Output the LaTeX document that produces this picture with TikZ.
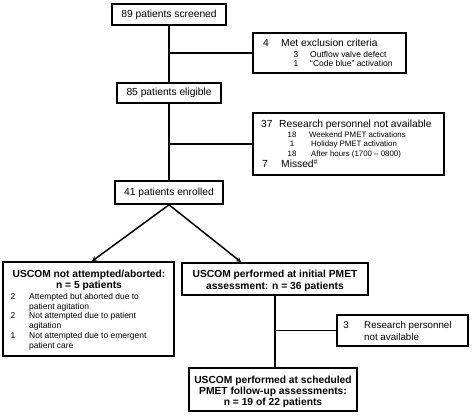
\documentclass[tikz,border=0pt]{standalone}
\usepackage{fontspec}
\setmainfont{Liberation Sans}
\usetikzlibrary{arrows.meta,calc}
\begin{document}
\begin{tikzpicture}[x=1bp,y=-1bp,
  box/.style={draw, line width=1.6bp, inner sep=0pt},
  conn/.style={line width=1.5bp},
  arr/.style={line width=1.5bp, -{Stealth[length=5bp,width=5bp]}},
  big/.style={inner sep=0pt, font=\fontsize{10.3}{12}\selectfont},
  bigb/.style={inner sep=0pt, font=\fontsize{10.3}{12}\selectfont\bfseries, anchor=base},
  med/.style={inner sep=0pt, font=\fontsize{8.5}{10}\selectfont},
  sml/.style={inner sep=0pt, font=\fontsize{7.9}{10}\selectfont},
  rp/.style={inner sep=0pt, font=\fontsize{9.8}{12}\selectfont},
]
\useasboundingbox (0,0) rectangle (474,416);

% main column boxes
\node[box, big, minimum width=114bp, minimum height=21bp] (b1) at (169,14.5) {89 patients screened};
\node[box, big, minimum width=104bp, minimum height=20bp] (b2) at (169,93) {85 patients eligible};
\node[box, big, minimum width=108bp, minimum height=23bp] (b3) at (169,192.5) {41 patients enrolled};

% exclusion box
\node[box, minimum width=153bp, minimum height=40bp] (excl) at (329.5,53) {};
\node[big, anchor=base west] (e0n) at (263,46.7) {4};
\node[big, anchor=base west] (e0t) at (281,46.7) {Met exclusion criteria};
\node[med, anchor=base] (e1n) at (296,57.3) {3};
\node[med, anchor=base west] (e1t) at (310,57.3) {Outflow valve defect};
\node[med, anchor=base] (e2n) at (296,66.5) {1};
\node[med, anchor=base west] (e2t) at (310,66.5) {“Code blue” activation};

% research box
\node[box, minimum width=191bp, minimum height=62bp] (res) at (348.5,144) {};
\node[big, anchor=base west] (r0n) at (261,127.7) {37};
\node[big, anchor=base west] (r0t) at (279,127.7) {Research personnel not available};
\node[sml, anchor=base] (r1n) at (292,137.2) {18};
\node[sml, anchor=base west] (r1t) at (309,137.2) {Weekend PMET activations};
\node[sml, anchor=base] (r2n) at (292,146.8) {1};
\node[sml, anchor=base west] (r2t) at (311,146.8) {Holiday PMET activation};
\node[sml, anchor=base] (r3n) at (292,156.2) {18};
\node[sml, anchor=base west] (r3t) at (311,156.2) {After hours (1700 – 0800)};
\node[big, anchor=base west] (r4n) at (262,167.7) {7};
\node[big, anchor=base west] (r4t) at (281,167.7) {Missed\textsuperscript{\#}};

% left box
\node[box, minimum width=171bp, minimum height=94bp] (lft) at (88.5,309) {};
\node[bigb] (l0) at (89,277.7) {USCOM not attempted/aborted:};
\node[bigb] (l1) at (89,288.9) {n = 5 patients};
\node[med, anchor=base] (l2n) at (13,299.2) {2};
\node[med, anchor=base west] (l2t) at (29,299.2) {Attempted but aborted due to};
\node[med, anchor=base west] (l3t) at (29,309) {patient agitation};
\node[med, anchor=base] (l4n) at (13,318.8) {2};
\node[med, anchor=base west] (l4t) at (29,318.8) {Not attempted due to patient};
\node[med, anchor=base west] (l5t) at (29,328.8) {agitation};
\node[med, anchor=base] (l6n) at (13,338.8) {1};
\node[med, anchor=base west] (l6t) at (29,338.8) {Not attempted due to emergent};
\node[med, anchor=base west] (l7t) at (29,348.8) {patient care};

% middle box
\node[box, minimum width=186bp, minimum height=32bp] (mid) at (275,279) {};
\node[bigb] (m0) at (275,277.7) {USCOM performed at initial PMET};
\node[bigb] (m1) at (275,289.7) {assessment: n = 36 patients};

% right small box
\node[box, minimum width=131bp, minimum height=31bp] (rs) at (402.5,330.5) {};
\node[rp, anchor=base] (s0n) at (346,328.6) {3};
\node[rp, anchor=base west] (s0t) at (364,328.6) {Research personnel};
\node[rp, anchor=base west] (s1t) at (364,340.6) {not available};

% bottom box
\node[box, minimum width=168bp, minimum height=43bp] (bot) at (273,389.5) {};
\node[bigb] (o0) at (273,383.8) {USCOM performed at scheduled};
\node[bigb] (o1) at (273,394.4) {PMET follow-up assessments:};
\node[bigb] (o2) at (273,405.2) {n = 19 of 22 patients};

% connectors
\draw[conn] (b1.south) -- (b2.north);
\draw[conn] (b1.south |- excl.west) -- (excl.west);
\draw[conn] (b2.south) -- (b3.north);
\draw[conn] (b2.south |- res.west) -- (res.west);
\coordinate (lftin) at ($(lft.north west)!0.52!(lft.north east)$);
\coordinate (midin) at ($(mid.north west)!0.32!(mid.north east)$);
\draw[arr] (b3.south) -- (lftin);
\draw[arr] (b3.south) -- (midin);
\draw[conn] (mid.south) -- (mid.south |- bot.north);
\draw[conn] (mid.south |- rs.west) -- (rs.west);
\end{tikzpicture}
\end{document}
